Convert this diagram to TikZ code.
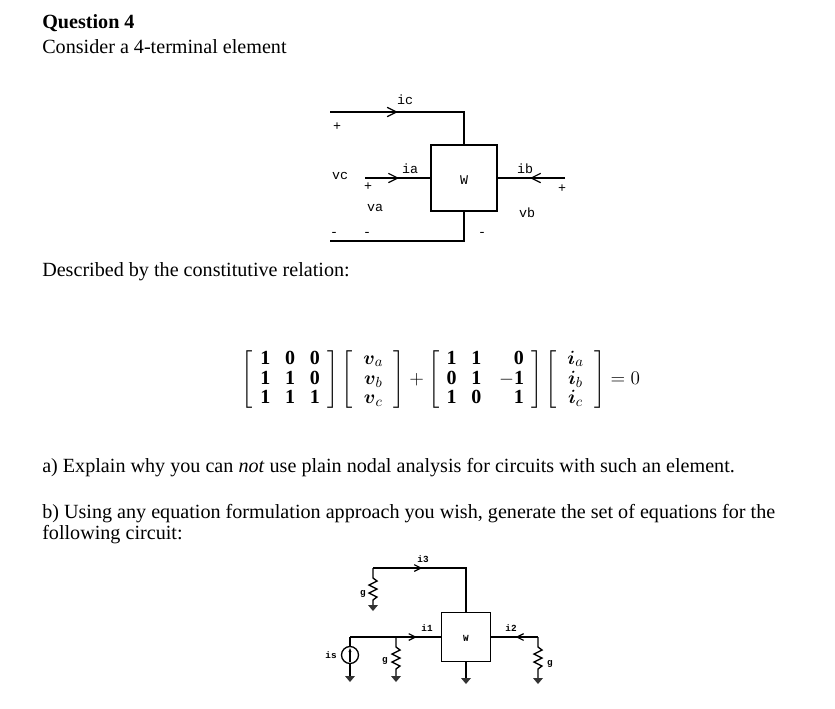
\documentclass[tikz,border=0pt]{standalone}
\usepackage{amsmath}
\usepackage{fontspec}
\setmainfont{Liberation Serif}
\setmonofont{Liberation Mono}
\usetikzlibrary{decorations.markings,arrows.meta}
\begin{document}
\begin{tikzpicture}[x=0.75pt,y=-0.75pt,
  txt/.style={anchor=base west,inner sep=0,font=\fontsize{15.1}{17}\selectfont},
  lab/.style={inner sep=0,font=\ttfamily\fontsize{10}{11}\selectfont},
  slab/.style={inner sep=0,font=\ttfamily\bfseries\fontsize{7}{8}\selectfont},
  wire/.style={line width=1pt},
  arr/.style={postaction={decorate},decoration={markings,mark=at position #1 with {\draw[line width=0.9pt] (-7pt,-3.5pt) -- (0,0) -- (-7pt,3.5pt);}}},
  sarr/.style={postaction={decorate},decoration={markings,mark=at position #1 with {\draw[line width=0.9pt] (-5pt,-2.5pt) -- (0,0) -- (-5pt,2.5pt);}}},
  gnd/.style={fill=black!80}]
\useasboundingbox (0,0) rectangle (835,708);
\node[txt,font=\bfseries\fontsize{15.1}{17}\selectfont] (q) at (42,28) {Question 4};
\node[txt] (c) at (42,53) {Consider a 4-terminal element};
\node[txt] (d) at (42,276) {Described by the constitutive relation:};
\node[txt] (ta) at (42,472) {a) Explain why you can \textit{not} use plain nodal analysis for circuits with such an element.};
\node[txt] (tb1) at (42,518) {b) Using any equation formulation approach you wish, generate the set of equations for the};
\node[txt] (tb2) at (42,539) {following circuit:};
% top circuit
\node[draw,wire,minimum width=66*0.75pt,minimum height=66*0.75pt,inner sep=0] (W) at (464,178) {};
\node[lab] (Wl) at (464,180) {W};
\coordinate (c1) at (330,112); \coordinate (c2) at (464,112);
\draw[wire,arr=0.4] (c1) -- (c2) -- (W.north);
\coordinate (a1) at (365,178);
\draw[wire,arr=0.5] (a1) -- (W.west);
\coordinate (b1) at (565,178);
\draw[wire,arr=0.5] (b1) -- (W.east);
\coordinate (g1) at (330,241); \coordinate (g2) at (464,241);
\draw[wire] (g1) -- (g2) -- (W.south);
\node[lab] (ic) at (405,100) {ic};
\node[lab] (ia) at (410,169) {ia};
\node[lab] (ib) at (525,169) {ib};
\node[lab] (vc) at (340,176) {vc};
\node[lab] (va) at (375,208) {va};
\node[lab] (vb) at (527,213) {vb};
\foreach \p/\x/\y in {p1/337/127,p2/368/187,p3/562/189} \node[lab] (\p) at (\x,\y) {+};
\foreach \p/\x/\y in {m1/334/234,m2/367/234,m3/482/234} \node[lab] (\p) at (\x,\y) {-};
% equation
\node[inner sep=0,font=\fontsize{15}{17}\selectfont] (eq) at (441,380) {\setlength\arraycolsep{5.5pt}\renewcommand\arraystretch{0.88}$\left[\begin{array}{ccc}\mathbf 1&\mathbf 0&\mathbf 0\\ \mathbf 1&\mathbf 1&\mathbf 0\\ \mathbf 1&\mathbf 1&\mathbf 1\end{array}\right]
\left[\begin{array}{c}\,\boldsymbol v_a\,\\ \boldsymbol v_b\\ \boldsymbol v_c\end{array}\right]+
\left[\begin{array}{ccr}\mathbf 1&\mathbf 1&\hspace{0.9em}\mathbf 0\\ \mathbf 0&\mathbf 1&-\mathbf 1\\ \mathbf 1&\mathbf 0&\mathbf 1\end{array}\right]
\left[\begin{array}{c}\,\boldsymbol i_a\,\\ \boldsymbol i_b\\ \boldsymbol i_c\end{array}\right]=0$};
% bottom circuit
\node[draw,wire,minimum width=49*0.75pt,minimum height=49*0.75pt,inner sep=0] (W2) at (466,637) {};
\node[slab] (W2l) at (466,638) {W};
\coordinate (t1) at (373,568); \coordinate (t2) at (466,568);
\draw[wire,sarr=0.35] (t1) -- (t2) -- (W2.north);
\coordinate (i1a) at (350,637);
\draw[wire,sarr=0.72] (i1a) -- (W2.west);
\coordinate (r2t) at (538,637);
\draw[wire,sarr=0.45] (r2t) -- (W2.east);
\def\res#1#2#3{\draw[wire] (#1,#2) -- (#1,#2+10) -- ++(4,3) -- ++(-8,4) -- ++(8,4) -- ++(-8,4) -- ++(8,4) -- ++(-4,3) -- (#1,#3);}
\res{373}{568}{605}
\res{396}{637}{676}
\res{538}{637}{678}
\draw[wire] (W2.south) -- (466,678);
\node[draw,wire,circle,minimum size=17*0.75pt,inner sep=0] (src) at (350,655) {};
\draw[wire] (i1a) -- (src.north);
\draw[wire] (src.south) -- (350,676);
\draw[wire,-{Stealth[length=3pt]}] (350,662) -- (350,648);
\foreach \x/\y in {373/605,350/676,396/676,466/678,538/678}
  \fill[gnd] (\x-5,\y) -- (\x+5,\y) -- (\x,\y+6) -- cycle;
\node[slab] (li3) at (423,559) {i3};
\node[slab] (li1) at (427,628) {i1};
\node[slab] (li2) at (511,628) {i2};
\node[slab] (lis) at (331,655) {is};
\node[slab] (lg1) at (363,594) {g};
\node[slab] (lg2) at (385,661) {g};
\node[slab] (lg3) at (550,664) {g};
\end{tikzpicture}
\end{document}
